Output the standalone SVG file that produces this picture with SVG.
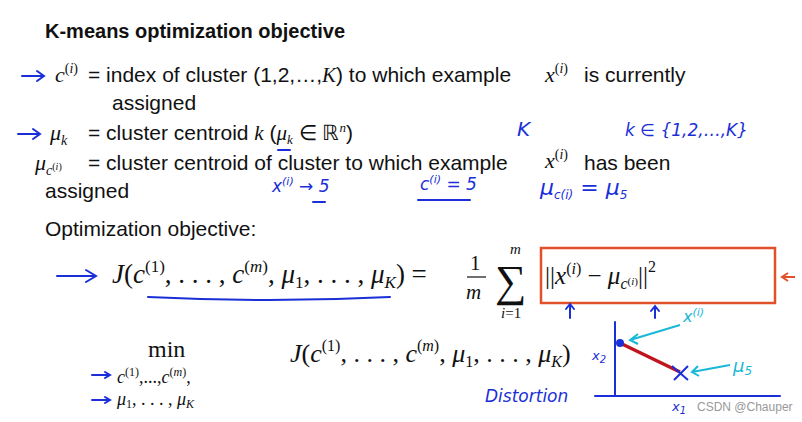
<svg xmlns="http://www.w3.org/2000/svg" width="802" height="422" viewBox="0 0 802 422">
<style>
.t{font-family:"Liberation Sans",Arial,sans-serif;font-size:21px;fill:#111}
.m{font-family:"Liberation Serif","Times New Roman",serif;font-style:italic;fill:#111}
.r{font-family:"Liberation Serif","Times New Roman",serif;font-style:normal;fill:#111}
.h{font-family:"DejaVu Sans",sans-serif;font-size:17px;fill:#1a2fd8;font-style:italic}
.c{font-family:"DejaVu Sans",sans-serif;font-size:16px;fill:#19b8d8;font-style:italic}
.bl{stroke:#1a2fd8;stroke-width:2;fill:none;stroke-linecap:round}
</style>
<rect width="802" height="422" fill="#fff"/>
<text x="45" y="38" class="t" style="font-weight:bold;font-size:20px">K-means optimization objective</text>
<path class="bl" d="M22 76 L44 76 M37 71 L44 76 L37 81"/>
<text x="55" y="82" class="m" style="font-size:22px">c<tspan dy="-9" style="font-size:14px" class="r">(</tspan><tspan style="font-size:14px">i</tspan><tspan style="font-size:14px" class="r">)</tspan></text>
<text x="88" y="82" class="t">= index of cluster (1,2,…,<tspan class="m">K</tspan>) to which example</text>
<text x="545" y="82" class="m" style="font-size:22px">x<tspan dy="-9" style="font-size:14px" class="r">(</tspan><tspan style="font-size:14px">i</tspan><tspan style="font-size:14px" class="r">)</tspan></text>
<text x="584" y="82" class="t">is currently</text>
<text x="112" y="110" class="t">assigned</text>
<path class="bl" d="M18 134 L40 134 M33 129 L40 134 L33 139"/>
<text x="50" y="140" class="m" style="font-size:22px">μ<tspan dy="5" style="font-size:14px">k</tspan></text>
<text x="88" y="140" class="t">= cluster centroid <tspan class="m">k</tspan> (<tspan class="m">μ</tspan><tspan class="m" dy="4" style="font-size:13px">k</tspan><tspan dy="-4"> ∈ ℝ</tspan><tspan dy="-8" style="font-size:13px" class="m">n</tspan><tspan dy="8">)</tspan></text>
<path class="bl" d="M278 150 L290 150"/>
<text x="517" y="136" class="h" style="font-size:20px">K</text>
<text x="625" y="136" class="h">k ∈ {1,2,…,K}</text>
<text x="35" y="170" class="m" style="font-size:22px">μ<tspan dy="5" style="font-size:14px">c</tspan><tspan dy="-5" style="font-size:10px" class="r">(</tspan><tspan style="font-size:10px">i</tspan><tspan style="font-size:10px" class="r">)</tspan></text>
<text x="88" y="170" class="t">= cluster centroid of cluster to which example</text>
<text x="545" y="168" class="m" style="font-size:22px">x<tspan dy="-9" style="font-size:14px" class="r">(</tspan><tspan style="font-size:14px">i</tspan><tspan style="font-size:14px" class="r">)</tspan></text>
<text x="584" y="170" class="t">has been</text>
<text x="45" y="198" class="t">assigned</text>
<text x="272" y="192" class="h">x<tspan dy="-7" style="font-size:11px">(i)</tspan><tspan dy="7"> → 5</tspan></text>
<path class="bl" d="M313 202 L325 202"/>
<text x="420" y="190" class="h">c<tspan dy="-7" style="font-size:11px">(i)</tspan><tspan dy="7"> = 5</tspan></text>
<path class="bl" d="M418 200 L470 200"/>
<text x="540" y="195" class="h" style="font-size:22px">μ<tspan dy="4" style="font-size:12px">c(i)</tspan><tspan dy="-4"> = μ</tspan><tspan dy="4" style="font-size:12px">5</tspan></text>
<text x="45" y="236" class="t">Optimization objective:</text>
<path class="bl" d="M57 276 L96 276 M86 270 L96 276 L86 282"/>
<text x="112" y="283" class="m" style="font-size:27px">J<tspan class="r">(</tspan>c<tspan dy="-11" style="font-size:17px" class="r">(1)</tspan><tspan dy="11" class="r">, . . . , </tspan>c<tspan dy="-11" style="font-size:17px" class="r">(</tspan><tspan style="font-size:17px">m</tspan><tspan style="font-size:17px" class="r">)</tspan><tspan dy="11" class="r">, </tspan>μ<tspan dy="5" style="font-size:17px" class="r">1</tspan><tspan dy="-5" class="r">, . . . , </tspan>μ<tspan dy="5" style="font-size:17px">K</tspan><tspan dy="-5" class="r">) = </tspan></text>
<text x="470" y="270" class="r" style="font-size:21px">1</text>
<path d="M467 277 L486 277" stroke="#111" stroke-width="1.2"/>
<text x="466" y="299" class="m" style="font-size:21px">m</text>
<text x="495" y="296" class="r" style="font-size:44px">∑</text>
<text x="510" y="254" class="m" style="font-size:15px">m</text>
<text x="501" y="318" class="m" style="font-size:15px">i<tspan class="r">=1</tspan></text>
<text x="545" y="284" class="m" style="font-size:25px"><tspan class="r">||</tspan>x<tspan dy="-10" style="font-size:16px" class="r">(</tspan><tspan style="font-size:16px">i</tspan><tspan style="font-size:16px" class="r">)</tspan><tspan dy="10" class="r"> − </tspan>μ<tspan dy="5" style="font-size:16px">c</tspan><tspan dy="-4" style="font-size:11px" class="r">(</tspan><tspan style="font-size:11px">i</tspan><tspan style="font-size:11px" class="r">)</tspan><tspan dy="-1" class="r">||</tspan><tspan dy="-12" style="font-size:16px" class="r">2</tspan></text>
<path class="bl" d="M148 297 Q270 303 390 297"/>
<rect x="541" y="248" width="234" height="55" fill="none" stroke="#e2502a" stroke-width="2.5"/>
<path d="M795 277 L782 277 M788 273 L782 277 L788 281" stroke="#e2502a" stroke-width="2" fill="none"/>
<path class="bl" d="M570 318 L570 304 M566 309 L570 304 L574 309 M655 318 L655 306 M651 311 L655 306 L659 311"/>
<text x="148" y="357" class="r" style="font-size:24px">min</text>
<text x="117" y="383" class="m" style="font-size:18px">c<tspan dy="-7" style="font-size:12px" class="r">(1)</tspan><tspan dy="7" class="r">,...,</tspan>c<tspan dy="-7" style="font-size:12px" class="r">(</tspan><tspan style="font-size:12px">m</tspan><tspan style="font-size:12px" class="r">)</tspan><tspan dy="7" class="r">,</tspan></text>
<text x="117" y="405" class="m" style="font-size:18px">μ<tspan dy="3" style="font-size:12px" class="r">1</tspan><tspan dy="-3" class="r">, . . . , </tspan>μ<tspan dy="3" style="font-size:12px">K</tspan></text>
<path class="bl" d="M92 375 L110 375 M105 372 L110 375 L105 378 M92 400 L110 400 M105 397 L110 400 L105 403"/>
<text x="290" y="362" class="m" style="font-size:26px">J<tspan class="r">(</tspan>c<tspan dy="-11" style="font-size:16px" class="r">(1)</tspan><tspan dy="11" class="r">, . . . , </tspan>c<tspan dy="-11" style="font-size:16px" class="r">(</tspan><tspan style="font-size:16px">m</tspan><tspan style="font-size:16px" class="r">)</tspan><tspan dy="11" class="r">, </tspan>μ<tspan dy="5" style="font-size:16px" class="r">1</tspan><tspan dy="-5" class="r">, . . . , </tspan>μ<tspan dy="5" style="font-size:16px">K</tspan><tspan dy="-5" class="r">)</tspan></text>
<text x="485" y="402" class="h">Distortion</text>
<path class="bl" d="M615 322 L615 396 M595 396 L780 396"/>
<text x="592" y="360" class="h" style="font-size:13px">x<tspan dy="3" style="font-size:10px">2</tspan></text>
<text x="672" y="411" class="h" style="font-size:13px">x<tspan dy="3" style="font-size:10px">1</tspan></text>
<path d="M620 343 L680 372" stroke="#c0141e" stroke-width="3.5"/>
<circle cx="620" cy="343" r="4" fill="#1a2fd8"/>
<path d="M672 366 L688 380 M688 366 L674 380" stroke="#1a2fd8" stroke-width="2"/>
<path d="M680 325 L630 340 M638 334 L630 340 L638 344" stroke="#19b8d8" stroke-width="2" fill="none"/>
<text x="683" y="322" class="c">x<tspan dy="-6" style="font-size:11px">(i)</tspan></text>
<path d="M730 365 L692 372 M698 366 L692 372 L699 376" stroke="#19b8d8" stroke-width="2" fill="none"/>
<text x="733" y="372" class="c" style="font-size:18px">μ<tspan dy="3" style="font-size:12px">5</tspan></text>
<text x="697" y="411" font-family="Liberation Sans,sans-serif" font-size="12" fill="#999">CSDN @Chauper</text>
</svg>
